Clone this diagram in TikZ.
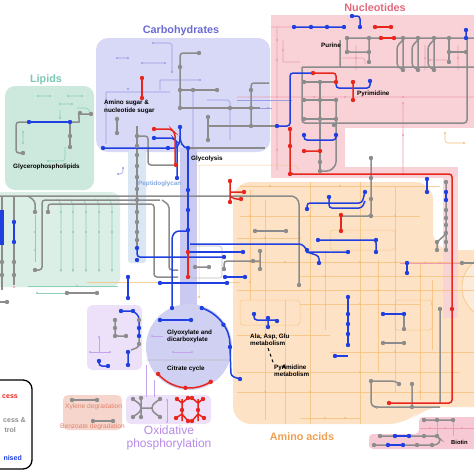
\documentclass[tikz,border=0pt]{standalone}
\usepackage{fontspec}
\setmainfont{Liberation Sans}
\usetikzlibrary{arrows.meta}
\definecolor{gryc}{HTML}{8C8C8C}
\definecolor{bluc}{HTML}{1F3FE0}
\definecolor{redc}{HTML}{E8261E}
\definecolor{tealbg}{HTML}{CDE9DE}
\definecolor{tealbgb}{HTML}{DCEFE7}
\definecolor{carbbg}{HTML}{D8D8F7}
\definecolor{glycbg}{HTML}{C9C9F1}
\definecolor{circbg}{HTML}{D0D0F3}
\definecolor{pinkbg}{HTML}{F9D2D7}
\definecolor{orgbg}{HTML}{FDE2C5}
\definecolor{purpbg}{HTML}{ECE1F8}
\definecolor{pepbg}{HTML}{DAE6F3}
\definecolor{xylbg}{HTML}{F6D6CC}
\definecolor{biobg}{HTML}{F6C9D5}
\definecolor{rcirc}{HTML}{FCEBD9}
\definecolor{tealln}{HTML}{8CCFB9}
\definecolor{orgln}{HTML}{F5BE78}
\definecolor{pinkln}{HTML}{EE9DAE}
\definecolor{lavln}{HTML}{9C9CE6}
\definecolor{purln}{HTML}{C3A3EE}
\definecolor{carbtx}{HTML}{6B6BD8}
\definecolor{liptx}{HTML}{7CC8B4}
\definecolor{nuctx}{HTML}{E4697C}
\definecolor{aatx}{HTML}{F0A052}
\definecolor{oxtx}{HTML}{B88AE8}
\definecolor{peptx}{HTML}{86A9DC}
\definecolor{xyltx}{HTML}{E27F6A}
\newcommand\DotG[1]{\foreach \p in {#1} {\fill[gryc] \p circle[radius=2.2pt];}}
\newcommand\DotB[1]{\foreach \p in {#1} {\fill[bluc] \p circle[radius=2.2pt];}}
\newcommand\DotR[1]{\foreach \p in {#1} {\fill[redc] \p circle[radius=2.2pt];}}
\newcommand\DotS[2]{\foreach \p in {#2} {\fill[#1] \p circle[radius=1.2pt];}}
\begin{document}
\begin{tikzpicture}[x=1pt,y=-1pt,
  gl/.style={draw=gryc,line width=1.5pt,rounded corners=3pt},
  bl/.style={draw=bluc,line width=1.5pt,rounded corners=3pt},
  rl/.style={draw=redc,line width=1.5pt,rounded corners=3pt},
  tl/.style={line width=0.6pt,rounded corners=3pt},
  lbl/.style={font=\fontsize{6.3}{7.3}\selectfont\bfseries,anchor=west,inner sep=0pt,align=left},
  big/.style={font=\fontsize{10.8}{12}\selectfont\bfseries,inner sep=0pt},
  sml/.style={font=\fontsize{6.6}{7.5}\selectfont,anchor=west,inner sep=0pt,text=xyltx}]
\clip (0,0) rectangle (474,474);
\fill[white] (0,0) rectangle (474,474);
% ---------- regions ----------
\fill[tealbg,rounded corners=10pt] (5,86) rectangle (94,190);
\fill[tealbgb,rounded corners=9pt] (-10,192) rectangle (120,287);
\fill[carbbg,rounded corners=12pt] (96,38) rectangle (270,152);
\fill[pepbg,rounded corners=3pt] (128,150) rectangle (146,263);
\fill[orgbg,rounded corners=18pt] (233,182) -- (433,182) -- (433,250) -- (490,250) -- (490,407) -- (424,407) -- (407,424) -- (233,424) -- cycle;
\fill[rcirc] (494,287) circle[radius=32pt];
\draw[orgln,line width=0.5pt] (494,287) circle[radius=32pt];
\fill[pinkbg] (271,15) rectangle (490,128);
\fill[pinkbg] (271,127) rectangle (345,178);
\fill[pinkbg] (271,167) rectangle (458,178);
\fill[pinkbg,opacity=0.85] (443,167) rectangle (458,318);
\fill[glycbg] (180,148) rectangle (197,312);
\fill[circbg] (189,347) circle[radius=43pt];
\fill[purpbg,rounded corners=6pt] (87,305) rectangle (142,370);
\fill[purpbg,rounded corners=5pt] (126,395) rectangle (211,424);
\fill[xylbg,rounded corners=5pt] (63,395) rectangle (122,430);
\fill[biobg,rounded corners=4pt] (369,434) -- (419,434) -- (419,417) -- (490,417) -- (490,449) -- (369,449) -- cycle;
\draw[black,line width=1.3pt,rounded corners=9pt] (-20,380) rectangle (32,469);
% ---------- thin background lines ----------
% lipids
\draw[tl,tealln] (38,96) -- (50,96) (68,96) -- (82,96) (60,104) -- (72,104) (60,110) -- (60,118)
  (77,108) -- (88,108) -- (91,114) (23,132) -- (23,143) (48,161) -- (65,161) -- (65,147);
\DotS{tealln}{(38,96),(50,96),(68,96),(82,96),(60,104),(72,104),(60,118),(23,132),(23,143),(48,161)}
\foreach \x in {61,73,86,99,112} {\draw[tl,tealln] (\x-4,199) -- (\x,203) -- (\x,272);
  \DotS{tealln}{(\x,212),(\x,232),(\x,270)}}
\draw[tl,tealln] (28,286) -- (118,286) (37,293) -- (67,293) (35,215) -- (35,262);
\DotS{tealln}{(77,286),(37,293),(35,232),(35,250)}
% carbohydrates
\draw[tl,lavln] (153,43) -- (172,43) -- (172,72) (117,58) -- (128,58) (142,63) -- (165,63)
  (160,80) -- (200,80) (160,80) -- (160,90) (193,90) -- (193,150) (106,92) -- (106,144)
  (106,92) -- (170,92) (207,100) -- (230,100) -- (230,140) (118,174) -- (123,174) -- (123,168);
\DotS{lavln}{(153,43),(172,72),(117,58),(128,58),(142,63),(165,63),(200,80),(128,89),(118,174),(123,168)}
\draw[tl,lavln] (237,108) -- (272,108) (237,100) -- (292,100);
\DotS{lavln}{(247,108),(268,108)}
% nucleotides
\draw[tl,pinkln] (277,27) -- (277,170) (271,27) -- (294,27) (237,97) -- (474,97)
  (403,103) -- (403,175) (356,45) -- (356,70) (425,45) -- (425,70) (458,45) -- (458,70)
  (283,40) -- (283,62) (283,62) -- (300,62) (430,60) -- (448,60) (342,58) -- (365,58) -- (365,64);
\DotS{pinkln}{(277,40),(277,60),(277,150),(403,103),(403,135),(356,58),(425,58),(458,58),(283,50),(430,60),(314,97),(345,97),(403,97)}
\draw[tl,orgln] (445,133) -- (445,143) -- (464,143);
\DotS{orgln}{(445,133),(464,143)}
% amino acids
\begin{scope}[tl,orgln,line width=0.5pt,opacity=0.75]
\draw (240,186) -- (440,186) (240,216) -- (420,216) (237,238) -- (300,238) (250,262) -- (474,262)
  (300,276) -- (474,276) (237,290) -- (474,290) (300,304) -- (420,304) (237,335) -- (330,335)
  (330,352) -- (474,352) (237,372) -- (460,372) (237,392) -- (474,392) (300,418) -- (360,418)
  (87,282) -- (240,282);
\draw (250,190) -- (250,300) (265,200) -- (265,420) (285,300) -- (285,424) (310,182) -- (310,424)
  (325,250) -- (325,330) (360,182) -- (360,424) (378,260) -- (378,372) (395,186) -- (395,392)
  (420,262) -- (420,400) (432,280) -- (432,350);
\draw (198,165) -- (295,165) -- (299,170) (199,165) -- (199,297);
\draw (240,300) rectangle (300,325) (330,230) rectangle (395,250) (395,300) rectangle (432,330);
\end{scope}
\DotS{orgln}{(199,297),(250,216),(265,238),(285,262),(310,290),(325,276),(360,304),(378,290),(395,262),(420,276),
  (265,335),(285,372),(310,392),(360,372),(395,352),(420,392),(250,262),(325,418),(345,418),(310,216),(395,216),
  (432,304),(265,392),(285,335),(360,262),(270,186),(340,186),(300,238),(250,282)}
% purple thin
\draw[tl,purln] (90,352) -- (110,352) (99,337) -- (99,352) (146,365) -- (146,397) (154,380) -- (154,397)
  (167,400) -- (167,422) (152,336) -- (163,336) (173,352) -- (192,352);
\DotS{purln}{(90,352),(110,352),(99,337),(167,400),(167,422),(152,336),(173,352),(192,352)}
\draw[tl,gryc!60] (147,360) -- (231,360) (190,246) rectangle (222,278);
\draw[tl,pinkln] (400,263) -- (462,263) (420,428) -- (474,428) (437,420) -- (437,436) (453,420) -- (453,436);
\DotS{pinkln}{(410,263),(425,263),(440,263),(430,428),(445,428),(462,428),(2,287),(14,287)}
% ---------- gray paths ----------
\draw[gl] (199,53) -- (180,53) -- (180,108);
\draw[gl] (180,90) -- (217,90);
\draw[gl] (180,108) -- (260,108);
\draw[gl] (269,83) -- (251,83) -- (251,126);
\draw[gl] (208,126) -- (277,126);
\draw[gl] (208,117) -- (208,140);
\draw[gl] (188,148) -- (265,148);
\draw[gl] (117,119) -- (117,133);
\draw[gl] (137,126) -- (137,250);
\draw[gl] (137,136) -- (148,136) -- (148,165) -- (174,165);
\draw[gl] (0,196) -- (294,196) -- (299,201) -- (299,285);
\draw[gl] (28,196) -- (35,201) -- (35,212);
\draw[gl] (160,200) -- (42,200) -- (42,270) -- (35,270);
\draw[gl] (48,212) -- (48,204) -- (154,204) -- (154,277) -- (178,277);
\draw[gl] (162,200) -- (169,205) -- (169,270) -- (178,270);
\draw[gl] (29,122) -- (16,122) -- (16,153) -- (23,153);
\draw[gl] (70,122) -- (76,122) to[out=0,in=180] (82,114) -- (91,114);
\draw[gl] (70,122) -- (70,147);
\draw[gl] (67,293) -- (97,293) (0,302) -- (7,302);
\draw[gl] (2,197) -- (2,290) (14,197) -- (14,285);
\draw[gl] (255,231) -- (286,231);
\draw[gl] (260,251) -- (260,269) (224,269) -- (224,261) -- (260,261) (195,267) -- (209,267);
\draw[gl] (371,158) -- (371,216) -- (341,216);
\draw[gl] (446,180) -- (446,234) -- (437,242) -- (437,250) (446,234) -- (446,250);
\draw[gl] (404,314) -- (404,329) (383,343) -- (404,343);
\draw[gl] (440,309) -- (440,403) (371,381) -- (395,381) -- (399,384) (371,381) -- (371,405) -- (375,407) -- (440,407) (412,384) -- (412,407);
\draw[gl] (462,263) -- (474,263);
% nucleotides gray
\draw[gl] (302,67) -- (474,67) (302,67) -- (302,123) -- (467,123) -- (467,38);
\draw[gl] (304,82) -- (336,82) (304,100) -- (336,100) (304,119) -- (336,119) (320,82) -- (320,171);
\draw[gl] (336,100) -- (336,165) -- (330,171) -- (320,171);
\draw[gl] (340,40) -- (340,67) (347,38) -- (474,38) (347,38) -- (347,52) -- (369,52) (369,38) -- (369,62);
\foreach \x in {403,418,434} {\draw[gl] (\x,38) -- (\x,70) (\x,40) -- (\x-6,46) -- (\x-6,66) -- (\x,70);}
\draw[gl] (449,38) -- (449,62) (449,52) -- (467,52);
% purple, oxidative, xylene, biotin gray
\draw[gl] (115,320) -- (115,336) -- (126,336) (139,336) -- (139,347) -- (131,350);
\draw[gl] (133,399) -- (141,405) -- (141,411) -- (133,417) (141,398) -- (141,417) (141,408) -- (152,408)
  (160,399) -- (152,405) -- (152,411) -- (160,417);
\draw[gl] (72,400) -- (97,400) (93,421) -- (113,421);
\draw[gl] (424,420) -- (453,420) (380,436) -- (437,436) -- (441,440) -- (437,445) -- (374,445);
% ---------- blue paths ----------
\draw[bl] (29,122) -- (70,122);
\draw[bl] (14,222) -- (14,242);
\fill[bluc] (0,210) rectangle (4,245);
\draw[bl] (103,148) -- (172,148) to[out=0,in=-90] (180,136) -- (180,127);
\draw[bl] (180,136) to[out=-90,in=180] (188,148);
\draw[bl] (154,138) -- (173,138) -- (177,142) -- (177,178);
\draw[bl] (188,148) -- (188,252);
\draw[bl] (188,231) -- (176,231) -- (172,236) -- (172,308);
\draw[bl] (190,244) -- (302,244) -- (307,250) -- (307,252);
\draw[bl] (188,252) -- (243,252);
\draw[bl] (137,248) -- (137,257) -- (224,257);
\draw[bl] (225,277) -- (245,277) (160,283) -- (227,283) (128,277) -- (128,298);
\draw[bl] (160,320) -- (191,320);
\draw[bl] (189,347) ++(-72:41) arc[start angle=-72,end angle=0,radius=41] -- (231,376) -- (240,379);
\draw[bl] (294,27) -- (344,27) (352,16) -- (360,16) -- (360,27) (466,30) -- (466,38);
\draw[bl] (277,126) -- (290,126) -- (290,73) -- (313,73);
\draw[bl] (336,82) -- (336,88) -- (370,88) -- (370,81);
\draw[bl] (304,135) -- (304,140) -- (336,140) -- (336,135);
\draw[bl] (307,209) -- (307,203) -- (362,203) -- (365,192);
\draw[bl] (329,197) -- (329,208) -- (362,208) -- (365,201);
\draw[bl] (318,240) -- (376,240) -- (376,252);
\draw[bl] (307,252) -- (348,252) (307,252) -- (319,256) -- (319,263);
\draw[bl] (254,314) -- (254,320) -- (277,320) (268,318) -- (268,327);
\draw[bl] (348,297) -- (348,345) (335,356) -- (348,356);
\draw[bl] (383,314) -- (404,314) (407,263) -- (407,273) (427,179) -- (427,192) (446,192) -- (446,200);
\draw[bl] (395,436) -- (409,436) (388,445) -- (403,445);
\draw[bl] (121,311) -- (133,311) -- (139,316) -- (139,336) (128,352) -- (128,365) (99,361) -- (99,366) -- (108,366);
% ---------- red paths ----------
\draw[rl] (142,78) -- (142,98);
\draw[rl] (154,129) -- (171,129) -- (175,133) -- (175,165);
\draw[rl] (188,252) -- (188,277);
\draw[rl] (230,181) -- (230,202) (230,192) -- (244,192) (230,196) -- (234,199) -- (241,199);
\draw[rl] (189,347) ++(58:41) arc[start angle=58,end angle=139,radius=41];
\draw[rl] (375,27) -- (391,27) (381,38) -- (394,38);
\draw[rl] (313,73) -- (336,73) -- (336,82) (353,82) -- (353,100) (304,151) -- (320,151);
\draw[rl] (290,129) -- (290,174) -- (452,174) -- (452,403) -- (389,403);
\draw[rl] (341,215) -- (341,231);
\foreach \c/\s in {182/1,198/-1} {
  \draw[rl,rounded corners=1pt] (\c,399) -- (\c,421) (\c,403) -- (\c-5*\s,399) (\c,403) -- (\c+6*\s,398)
    (\c,414) -- (\c-6*\s,418) (\c,414) -- (\c+6*\s,421);
  \DotR{(\c-5*\s,399),(\c+6*\s,398),(\c-6*\s,418),(\c+6*\s,421),(\c,410)}}
% ---------- dots ----------
\DotG{(199,53),(180,67),(180,90),(193,90),(217,90),(180,108),(230,108),(251,90),(251,108),(251,126),(208,117),(208,140),
  (117,119),(117,133),(137,136),(137,146),(137,155),(137,166),(137,177),(137,189),(137,200),(137,212),(137,222),(137,232),(137,240),
  (35,212),(48,212),(35,270),(23,153),(80,113),(91,114),(70,136),(70,147),(67,293),(97,293),(7,302),
  (14,262),(14,275),(2,262),(2,275),(255,231),(286,231),(299,285),(260,251),(260,269),(253,261),(224,269),(195,267),(209,267),
  (371,158),(371,178),(371,199),(371,216),(446,182),(446,210),(446,218),(446,225),(446,233),(437,242),(446,242),(437,250),(446,250),
  (404,329),(383,343),(404,343),(440,309),(371,381),(399,384),(412,384),(412,407),(462,263),
  (304,82),(320,82),(304,100),(320,100),(336,100),(304,119),(320,119),(336,119),(334,125),(320,162),(320,171),
  (347,38),(369,38),(347,52),(369,52),(369,62),(403,38),(418,38),(434,38),(449,38),(403,70),(418,70),(434,70),(449,52),(449,62),(466,52),
  (115,320),(115,328),(115,336),(126,336),(139,320),(139,344),
  (133,399),(141,398),(133,417),(141,417),(160,399),(160,417),(72,400),(97,400),(93,421),(113,421),
  (424,420),(437,420),(453,420),(380,436),(424,436),(437,436),(374,445),(417,445),(432,445)}
\DotB{(29,122),(70,122),(14,222),(14,242),(103,148),(168,148),(180,127),(188,148),(154,138),(177,178),
  (188,190),(188,210),(188,230),(172,308),(243,252),(137,248),(137,260),(224,257),(225,277),(245,277),(160,283),(227,283),
  (128,277),(128,298),(160,320),(191,320),(201.7,308),(223.4,324.7),(230,347),(240,379),(307,250),
  (294,27),(311,27),(327,27),(344,27),(352,16),(360,27),(466,30),(466,38),(277,126),(370,81),(304,135),(336,135),
  (307,209),(329,197),(365,192),(318,240),(376,240),(376,252),(348,252),(319,263),(254,314),(268,318),(268,327),(277,321),
  (348,297),(348,314),(348,324),(348,334),(348,345),(335,356),(383,314),(404,314),(407,263),(407,273),(427,179),(427,192),
  (446,192),(446,200),(395,436),(409,436),(388,445),(403,445),(121,311),(133,311),(139,328),(139,336),(128,352),(128,365),(99,361),(108,366)}
\DotR{(142,78),(142,98),(154,129),(176,165),(188,252),(188,277),(230,181),(230,202),(244,192),(241,199),
  (210.7,381.8),(185.4,387.8),(158.1,373.9),(375,27),(391,27),(381,38),(394,38),(313,73),(336,82),(353,82),(353,100),
  (304,151),(320,151),(290,129),(290,146),(290,174),(452,309),(389,403),(341,215),(341,231)}
% ---------- labels ----------
\node[big,text=carbtx] (tcarb) at (181,31) {Carbohydrates};
\node[big,text=liptx] (tlip) at (46,80) {Lipids};
\node[big,text=nuctx] (tnuc) at (375,8) {Nucleotides};
\node[big,text=aatx] (taa) at (302,437) {Amino acids};
\node[font=\fontsize{12}{13}\selectfont,text=oxtx,inner sep=0pt,align=center] (tox) at (169,437.5) {Oxidative\\phosphorylation};
\node[lbl] (tamino) at (104,107) {Amino sugar \&\\nucleotide sugar};
\node[lbl] (tglyc) at (13,167) {Glycerophospholipids};
\node[lbl] (tglyco) at (191,159) {Glycolysis};
\node[lbl,text=peptx] (tpep) at (138,184) {Peptidoglycan};
\node[lbl] (tpur) at (321,45) {Purine};
\node[lbl] (tpyr) at (357,94) {Pyrimidine};
\node[lbl] (tglyox) at (167,336.5) {Glyoxylate and\\dicarboxylate};
\node[lbl] (tcit) at (167,369) {Citrate cycle};
\node[lbl] (tala) at (250,340) {Ala, Asp, Glu\\metabolism};
\node[lbl] (tpyrm) at (274,371) {Pyrimidine\\metabolism};
\node[lbl,font=\fontsize{5.8}{7}\selectfont\bfseries] (tbio) at (451,442) {Biotin};
\node[sml] (txyl) at (65,407) {Xylene degradation};
\node[sml] (tbenz) at (60,427) {Benzoate degradation};
\draw[black,dashed,line width=1pt,-{Stealth[length=5pt,width=4pt]}] (tala.south west) ++(18,2) -- (tpyrm.north west) ++(10,-1);
\node[font=\fontsize{7}{8}\selectfont\bfseries,text=redc,anchor=east,inner sep=0pt] (lg1) at (18,397) {cess};
\node[font=\fontsize{7}{8}\selectfont\bfseries,text=gryc,anchor=east,inner sep=0pt] (lg2) at (26,420) {cess \&};
\node[font=\fontsize{7}{8}\selectfont\bfseries,text=gryc,anchor=east,inner sep=0pt] (lg3) at (16,430) {trol};
\node[font=\fontsize{7}{8}\selectfont\bfseries,text=bluc,anchor=east,inner sep=0pt] (lg4) at (22,458) {nised};
\end{tikzpicture}
\end{document}
